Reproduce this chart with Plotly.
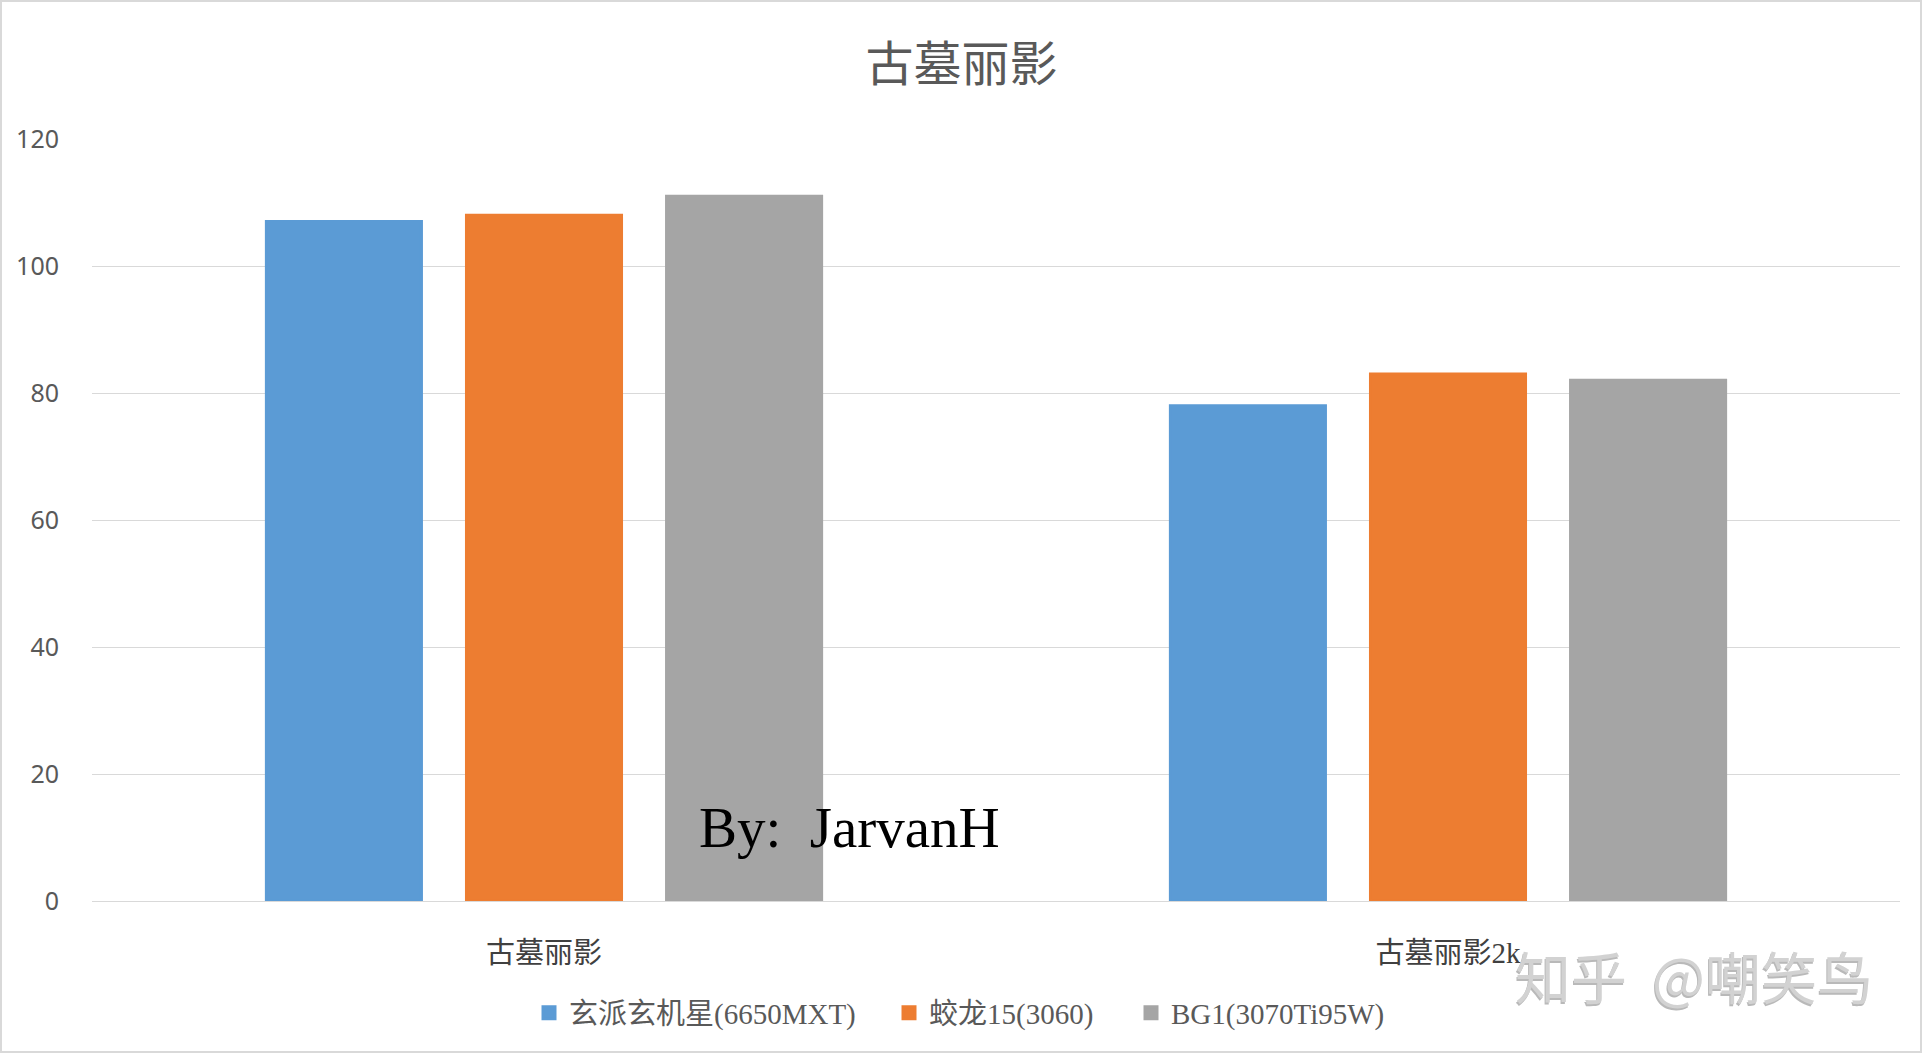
import plotly.graph_objects as go

categories = ["古墓丽影", "古墓丽影2k"]
series_names = ["玄派玄机星(6650MXT)", "蛟龙15(3060)", "BG1(3070Ti95W)"]
series_values = [
    [107, 78],
    [108, 83],
    [111, 82],
]
colors = ["#5B9BD5", "#ED7D31", "#A5A5A5"]
y_ticks = [0, 20, 40, 60, 80, 100, 120]
title_text = "古墓丽影"
credit_text = "By:  JarvanH"
watermark_text = "知乎  @嘲笑鸟"

W, H = 1923, 1054
L, R, T, B = 92, 23, 139, 153
pw, ph = W - L - R, H - T - B

legend_ids = ["legend", "legend2", "legend3"]
legend_square_left = [541, 901, 1143]

fig = go.Figure()
for name, vals, col, lid in zip(series_names, series_values, colors, legend_ids):
    fig.add_trace(go.Bar(x=categories, y=vals, name=name, legend=lid, showlegend=True,
                         marker=dict(color=col, line=dict(width=3, color=col))))

legend_font = dict(family="Liberation Serif, Noto Sans CJK SC", size=29, color="#595959")
legend_layouts = {}
for lid, sx in zip(legend_ids, legend_square_left):
    legend_layouts[lid] = dict(orientation="h", x=(sx - 12) / W, xref="container", xanchor="left",
                               y=1 - 1013 / H, yref="container", yanchor="middle",
                               font=legend_font, bgcolor="rgba(0,0,0,0)", visible=True)

fig.update_layout(
    width=W, height=H,
    margin=dict(l=L, r=R, t=T, b=B, autoexpand=False),
    paper_bgcolor="white", plot_bgcolor="white",
    showlegend=True,
    barmode="group", bargap=0.336, bargroupgap=0.225,
    title=dict(text=title_text, x=0.5, xref="container", xanchor="center",
               y=1 - 64 / H, yref="container", yanchor="middle",
               font=dict(family="Noto Sans CJK SC", size=48, color="#595959")),
    xaxis=dict(showgrid=False, showline=True, linecolor="#D9D9D9", linewidth=1,
               ticks="", ticklabelstandoff=26,
               tickfont=dict(family="Liberation Serif, Noto Sans CJK SC", size=29, color="#404040")),
    yaxis=dict(range=[0, 120], tickvals=y_ticks, showgrid=True, gridcolor="#D9D9D9", gridwidth=1,
               zeroline=False, showline=False, ticks="", ticklabelstandoff=32,
               tickfont=dict(family="Noto Sans, Noto Sans CJK SC", size=25, color="#595959")),
    shapes=[dict(type="rect", xref="paper", yref="paper",
                 x0=-(L - 1) / pw, x1=1 + (R - 2) / pw, y0=-(B - 2) / ph, y1=1 + (T - 1) / ph,
                 line=dict(color="#D9D9D9", width=2), fillcolor="rgba(0,0,0,0)", layer="below")],
    **legend_layouts,
)

fig.add_annotation(text=credit_text, xref="paper", yref="paper",
                   x=(697 - L) / pw, y=(H - B - 827) / ph, xanchor="left", yanchor="middle",
                   showarrow=False, font=dict(family="Liberation Serif, Noto Sans CJK SC", size=57, color="#000000"))
# watermark with shadow
fig.add_annotation(text=watermark_text, xref="paper", yref="paper",
                   x=(1694 - L - 1.5) / pw, y=(H - B - 975 - 1.5) / ph, xanchor="center", yanchor="middle",
                   showarrow=False, font=dict(family="Noto Sans CJK SC", size=56, color="#B9B9B9"))
fig.add_annotation(text=watermark_text, xref="paper", yref="paper",
                   x=(1694 - L) / pw, y=(H - B - 975) / ph, xanchor="center", yanchor="middle",
                   showarrow=False, font=dict(family="Noto Sans CJK SC", size=56, color="#D2D2D2"))

fig.write_html("out.html", config={"displayModeBar": False},
               post_script="document.body.style.margin='0';document.body.style.padding='0';")
